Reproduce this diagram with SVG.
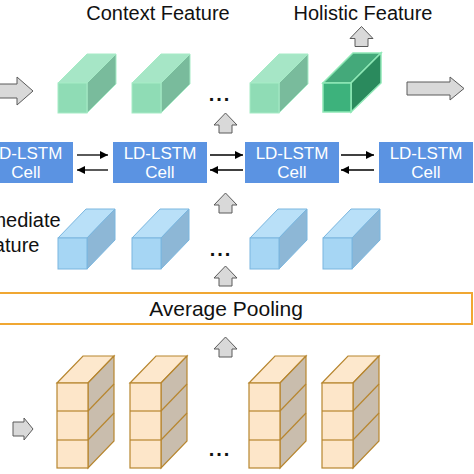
<svg xmlns="http://www.w3.org/2000/svg" width="474" height="474" viewBox="0 0 474 474">
<defs>
<marker id="ah" viewBox="0 0 10 10" refX="10" refY="5" markerWidth="10" markerHeight="8" markerUnits="userSpaceOnUse" orient="auto">
<path d="M0,0 L10,5 L0,10 z" fill="#000"/>
</marker>
<g id="gcube">
<polygon class="gt" points="0,0 29,0 58,-29 29,-29"/>
<polygon class="gr" points="29,0 58,-29 58,1 29,30"/>
<rect class="gf" x="0" y="0" width="29" height="30"/>
</g>
<g id="bcube">
<polygon class="bt" points="0,0 29,0 57,-29 28,-29"/>
<polygon class="br" points="29,0 57,-29 57,2 29,31"/>
<rect class="bf" x="0" y="0" width="29" height="31"/>
</g>
<g id="ostack">
<polygon class="ot" points="0,0 31,0 57,-27 26,-27"/>
<polygon class="or" points="31,0 57,-27 57,58 31,85"/>
<rect class="of" x="0" y="0" width="31" height="85"/>
<line class="ol" x1="0" y1="28" x2="31" y2="28"/>
<line class="ol" x1="0" y1="57" x2="31" y2="57"/>
<line class="ol" x1="31" y1="28" x2="57" y2="1"/>
<line class="ol" x1="31" y1="57" x2="57" y2="30"/>
</g>
<path id="uparrow" d="M0,-10 L11.5,2 L6.5,2 L6.5,10 L-6.5,10 L-6.5,2 L-11.5,2 z"/>
</defs>
<style>
text{font-family:"Liberation Sans",Arial,sans-serif;}
.lbl{font-size:20px;fill:#111;}
.cell{fill:#5b93e2;}
.celltxt{font-size:17px;fill:#fff;text-anchor:middle;}
.gf{fill:#8fdcb5;stroke:#a6ebc6;stroke-width:1;}
.gt{fill:#a6e6c6;stroke:#a6ebc6;stroke-width:1;}
.gr{fill:#79bb9c;stroke:#a6ebc6;stroke-width:1;}
.df{fill:#3db27c;stroke:#8ee8b6;stroke-width:1.5;}
.dt{fill:#44a97a;stroke:#8ee8b6;stroke-width:1.5;}
.dr{fill:#2a8a5d;stroke:#8ee8b6;stroke-width:1.5;}
.bf{fill:#a6d6f4;stroke:#7ab6df;stroke-width:1;}
.bt{fill:#b9e0f8;stroke:#7ab6df;stroke-width:1;}
.br{fill:#8db7d6;stroke:#7ab6df;stroke-width:1;}
.of{fill:#fde6c9;stroke:#b7862f;stroke-width:1.2;}
.ot{fill:#fde8cd;stroke:#b7862f;stroke-width:1.2;}
.or{fill:#c9bdad;stroke:#b7862f;stroke-width:1.2;}
.ol{stroke:#b7862f;stroke-width:1.2;}
.garrow{fill:#d9d9d9;stroke:#5a5a5a;stroke-width:1;}
.conn{stroke:#000;stroke-width:1.3;fill:none;marker-end:url(#ah);}
.dots{font-size:20px;fill:#111;text-anchor:middle;font-weight:bold;letter-spacing:2px;}
</style>
<rect width="474" height="474" fill="#fff"/>

<g id="labels">
<text class="lbl" x="158" y="20" text-anchor="middle">Context Feature</text>
<text class="lbl" x="363" y="20" text-anchor="middle">Holistic Feature</text>
<text class="lbl" x="5" y="227" text-anchor="middle">Intermediate</text>
<text class="lbl" x="5" y="252" text-anchor="middle">Feature</text>
</g>

<g id="context-features">
<use href="#gcube" x="58" y="83"/>
<use href="#gcube" x="132" y="83"/>
<use href="#gcube" x="250" y="83"/>
<text class="dots" x="220" y="101">...</text>
</g>
<g id="holistic-feature">
<polygon class="dt" points="323,83 351,83 381,53 353,53"/>
<polygon class="dr" points="351,83 381,53 381,83 351,112"/>
<rect class="df" x="323" y="83" width="28" height="29"/>
</g>

<g id="cell1"><rect class="cell" x="-21" y="142" width="94" height="41"/>
<text class="celltxt" x="26" y="159">LD-LSTM</text><text class="celltxt" x="26" y="178">Cell</text></g>
<g id="cell2"><rect class="cell" x="113" y="142" width="94" height="41"/>
<text class="celltxt" x="160" y="159">LD-LSTM</text><text class="celltxt" x="160" y="178">Cell</text></g>
<g id="cell3"><rect class="cell" x="245" y="142" width="94" height="41"/>
<text class="celltxt" x="292" y="159">LD-LSTM</text><text class="celltxt" x="292" y="178">Cell</text></g>
<g id="cell4"><rect class="cell" x="379" y="142" width="94" height="41"/>
<text class="celltxt" x="426" y="159">LD-LSTM</text><text class="celltxt" x="426" y="178">Cell</text></g>

<g id="intermediate-features">
<use href="#bcube" x="58" y="238"/>
<use href="#bcube" x="132" y="238"/>
<use href="#bcube" x="250" y="238"/>
<use href="#bcube" x="323" y="238"/>
<text class="dots" x="221" y="256">...</text>
</g>

<g id="average-pooling">
<rect x="-5" y="293" width="477" height="31" fill="#fff" stroke="#f0a733" stroke-width="2"/>
<text class="lbl" x="226" y="316" text-anchor="middle" style="font-size:21px">Average Pooling</text>
</g>

<g id="input-features">
<use href="#ostack" x="57" y="383"/>
<use href="#ostack" x="130" y="383"/>
<use href="#ostack" x="249" y="383"/>
<use href="#ostack" x="322" y="383"/>
<text class="dots" x="220" y="456">...</text>
</g>

<g id="connectors">
<line class="conn" x1="77" y1="155" x2="108" y2="155"/>
<line class="conn" x1="108" y1="170" x2="77" y2="170"/>
<line class="conn" x1="210" y1="155" x2="243" y2="155"/>
<line class="conn" x1="243" y1="170" x2="210" y2="170"/>
<line class="conn" x1="341" y1="155" x2="374" y2="155"/>
<line class="conn" x1="374" y1="170" x2="341" y2="170"/>
<path class="garrow" d="M-5,84 L17,84 L17,77 L33,91 L17,105 L17,98 L-5,98 z"/>
<path class="garrow" d="M407,82 L450,82 L450,77 L464,88.5 L450,100 L450,95 L407,95 z"/>
<path class="garrow" d="M13,422 L24,422 L24,418 L33,429 L24,440 L24,436 L13,436 z"/>
<use class="garrow" href="#uparrow" x="361.5" y="36.5"/>
<use class="garrow" href="#uparrow" x="225.5" y="123"/>
<use class="garrow" href="#uparrow" x="225.5" y="203"/>
<use class="garrow" href="#uparrow" x="225.5" y="276"/>
<use class="garrow" href="#uparrow" x="225.5" y="347"/>
</g>
</svg>
